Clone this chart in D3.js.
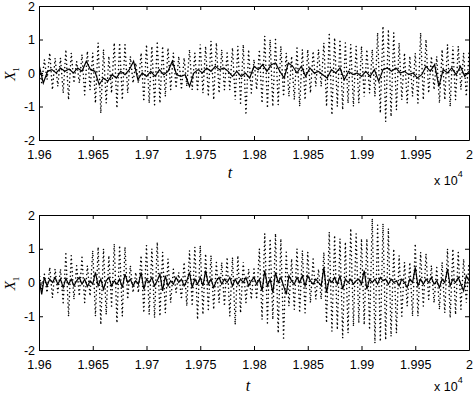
<!DOCTYPE html>
<html>
<head>
<meta charset="utf-8">
<script src="https://cdn.jsdelivr.net/npm/d3@7"></script>
<style>
  body { margin: 0; background: #fff; }
  svg { display: block; }
  .tick text { font-family: "Liberation Sans", Arial, sans-serif; font-size: 12.5px; fill: #000; }
  .tick line, .domain { stroke: #000; }
</style>
</head>
<body>
<script>
// time axis (t), in samples from t0 with a fixed step
const tStart = 19600, tEnd = 20000;
const xTicks = [19600, 19650, 19700, 19750, 19800, 19850, 19900, 19950, 20000];
const yTicks = [-2, -1, 0, 1, 2];
const dotStep = 2.5, solidStepTop = 4, solidStepBottom = 2.5;

// upper panel: dotted signal (swing peaks) and solid signal
const dottedTop = [0.2,-0.3,0.4,-0.2,0.6,-0.5,0.45,-0.4,0.45,-0.6,
  0.7,-0.8,0.6,
  -0.3,0.35,-0.3, 0.55,-0.65,0.65, -0.5,0.6,-0.9, 0.9,-1.2,0.7,
  -0.9,0.5,-0.6, 0.9,-1.05,0.9, -0.8,0.85,-0.6, 0.5,-0.3,0.3,
  -0.3,0.6,-0.85, 0.85,-0.9,0.8, -0.95,0.95,-0.9, 0.8,-0.7,0.75,
  -0.5,0.6,-0.45, 0.5,-0.5,0.45, -0.4,0.7,-0.5, 0.6,-0.55,0.85,
  -0.6,0.8,-0.7, 0.95,-0.8,0.9, -0.6,0.7,-0.5, 0.6,-0.5,0.75,
  -0.8,0.8,-0.9, 0.85,-1.25,0.7, -0.6,0.4,-0.5, 0.7,-0.9,1.1,
  -1.05,1.0,-1.0, 1.0,-0.95,0.8, -0.7,0.6,-0.7, 0.5,-0.8,0.75,
  -1.0,0.7,-0.8, 0.7,-0.6,0.65, -0.4,0.7,-0.4, 0.9,-1.0,1.15,
  -1.25,1.05,-1.0, 1.0,-1.1,0.9, -0.9,0.85,-1.0, 0.8,-0.9,0.8,
  -0.7,0.7,-0.6, 0.7,-0.7,1.2, -1.2,1.4,-1.45, 1.3,-1.3,1.2,
  -1.1,0.9,-0.8, 0.6,-0.9,0.5, -0.7,0.6,-0.9, 1.2,-0.8,1.0,
  -0.6,0.5,-0.5, 0.5,-0.9,0.7, -0.8,0.85,-1.0, 0.8,-0.8,0.8,
  -0.5,0.6,-0.7, 0.6];
const solidTop = [0.25,-0.3,0.05,0.1,0.0,0.15,0.05,0.12,0.0,0.15,
  0.05,0.35,0.1,0.05,-0.35,-0.15,-0.25,-0.05,-0.15,0.05,
  -0.05,0.1,0.35,-0.2,0.0,-0.1,0.05,-0.1,0.1,-0.05,
  0.05,0.35,-0.05,-0.1,-0.05,-0.4,0.0,0.1,0.0,0.15,
  0.05,0.2,0.1,0.15,0.05,-0.1,0.05,-0.1,0.0,-0.15,
  0.2,0.1,0.25,0.05,0.25,0.3,0.05,-0.15,0.3,0.2,
  0.0,0.2,-0.1,0.15,0.0,0.05,-0.05,-0.15,0.1,0.0,
  0.15,-0.2,0.05,-0.05,0.0,-0.1,0.05,-0.1,0.1,-0.25,
  0.1,0.15,0.05,0.15,0.0,0.05,-0.05,0.0,-0.15,-0.05,
  0.2,0.05,0.25,-0.4,0.1,0.0,0.15,-0.05,0.2,-0.1,0.05];

// lower panel
const dottedBottom = [0.3,-0.2,0.25,-0.3,0.45,-0.45,0.4,-0.3,0.4,-0.6,
  0.85,-1.0,0.8,
  -0.5,0.5,-0.4, 0.75,-0.6,0.5, -0.4,0.95,-1.0, 1.05,-1.25,1.0,
  -0.95,0.8,-0.7, 1.15,-1.2,1.1, -1.0,1.05,-0.5, 0.5,-0.3,0.3,
  -0.3,0.8,-0.9, 1.1,-0.95,1.0, -1.05,1.2,-1.0, 0.9,-0.9,0.7,
  -0.6,0.4,-0.3, 0.3,-0.5,0.6, -0.7,0.95,-0.7, 1.05,-1.1,1.1,
  -0.95,0.85,-0.8, 0.8,-0.8,0.6, -0.6,0.6,-0.7, 0.75,-1.0,0.75,
  -1.25,0.8,-0.9, 0.6,-0.6,0.4, -0.5,0.4,-0.5, 1.0,-1.1,1.45,
  -1.2,1.3,-1.1, 1.45,-1.5,1.3, -1.65,0.9,-0.7, 0.7,-0.8,1.0,
  -0.9,0.95,-0.9, 0.9,-0.6,0.7, -0.5,0.4,-0.5, 0.9,-1.2,1.5,
  -1.45,1.4,-1.4, 1.3,-1.65,1.2, -1.5,1.6,-1.3, 1.45,-1.2,1.3,
  -1.25,1.3,-1.4, 1.9,-1.8,1.7, -1.75,1.75,-1.7, 1.6,-1.6,1.0,
  -1.5,0.8,-1.0, 0.6,-0.7,0.6, -1.0,1.15,-1.0, 0.9,-0.7,0.85,
  -0.5,0.5,-0.6, 0.45,-0.8,0.6, -0.9,1.0,-1.05, 1.0,-0.95,0.9,
  -0.8,0.7,-0.6, 0.6];
const solidBottom = [0.1,-0.35,0.15,-0.1,0.1,0.0,0.15,-0.05,0.1,-0.15,
  0.12,-0.05,0.1,-0.1,0.05,0.15,-0.05,0.1,-0.12,0.05,
  -0.05,0.3,-0.1,0.1,-0.2,0.05,0.15,-0.1,0.05,-0.05,
  0.1,-0.15,0.25,0.0,0.1,-0.1,0.05,-0.05,0.3,-0.2,
  0.1,0.0,0.15,-0.1,0.05,0.25,-0.25,0.2,-0.1,0.05,
  -0.05,0.15,0.0,0.1,-0.1,0.05,0.3,-0.15,0.1,-0.05,
  0.15,-0.1,0.35,-0.05,0.1,-0.15,0.05,0.15,-0.05,0.1,
  0.0,0.15,-0.1,0.1,-0.05,0.1,0.0,0.15,-0.1,0.05,
  0.15,-0.05,0.1,-0.25,0.35,-0.1,0.1,-0.3,0.3,0.0,
  0.15,-0.1,-0.35,0.2,0.05,-0.05,0.15,0.0,0.2,-0.1,
  0.2,0.05,-0.05,0.1,0.0,-0.1,0.45,-0.3,0.1,0.0,
  0.15,-0.05,0.2,-0.2,0.1,0.0,0.1,-0.05,0.05,0.1,
  -0.05,0.35,-0.2,0.1,0.0,0.1,-0.05,0.15,0.05,0.1,
  -0.05,0.1,0.0,0.05,-0.1,0.1,0.0,-0.15,0.1,0.0,
  0.45,-0.1,0.1,-0.05,0.1,0.0,0.15,-0.05,0.05,-0.15,
  0.1,0.0,0.4,-0.1,0.1,0.0,0.15,-0.05,-0.25,0.2,0.05];

const outerWidth = 474, outerHeight = 395;
const left = 39, right = 469;

const svg = d3.select("body").append("svg")
    .attr("width", outerWidth)
    .attr("height", outerHeight)
    .style("font-family", "Liberation Sans, Arial, sans-serif");

const toPoints = (vals, step) => vals.map((v, i) => ({t: tStart + i * step, v: v}));

function panel(top, bottom, dotted, solid, solidStep, id, lab) {
  const x = d3.scaleLinear().domain([tStart, tEnd]).range([left, right]);
  const y = d3.scaleLinear().domain([-2, 2]).range([bottom, top]);

  svg.append("clipPath").attr("id", "clip" + id)
    .append("rect").attr("x", left).attr("y", top)
    .attr("width", right - left).attr("height", bottom - top);

  const line = d3.line().x(d => x(d.t)).y(d => y(d.v));

  const g = svg.append("g").attr("clip-path", "url(#clip" + id + ")");
  // dotted line drawn as round dots
  g.append("path")
    .datum(toPoints(dotted, dotStep))
    .attr("d", line)
    .attr("fill", "none")
    .attr("stroke", "#000")
    .attr("stroke-width", 1.5)
    .attr("stroke-linecap", "round")
    .attr("stroke-dasharray", "0.1,4");
  g.append("path")
    .datum(toPoints(solid, solidStep))
    .attr("d", line)
    .attr("fill", "none")
    .attr("stroke", "#000")
    .attr("stroke-width", 1.2);

  // MATLAB style box with inward ticks on every side
  svg.append("g")
    .attr("transform", "translate(0," + bottom + ")")
    .call(d3.axisBottom(x).tickValues(xTicks).tickSizeInner(-4).tickSizeOuter(0)
      .tickPadding(10).tickFormat(d => d3.format("")(+(d / 1e4).toFixed(4))));
  svg.append("g")
    .attr("transform", "translate(0," + top + ")")
    .call(d3.axisTop(x).tickValues(xTicks).tickSizeInner(-4).tickSizeOuter(0).tickFormat(""));
  svg.append("g")
    .attr("transform", "translate(" + left + ",0)")
    .call(d3.axisLeft(y).tickValues(yTicks).tickSizeInner(-4).tickSizeOuter(0)
      .tickPadding(4).tickFormat(d => d < 0 ? "-" + Math.abs(d) : d));
  svg.append("g")
    .attr("transform", "translate(" + right + ",0)")
    .call(d3.axisRight(y).tickValues(yTicks).tickSizeInner(-4).tickSizeOuter(0).tickFormat(""));

  // t label
  svg.append("text")
    .attr("x", lab.x).attr("y", lab.y)
    .attr("text-anchor", "middle")
    .style("font-family", "Liberation Serif, Times New Roman, serif")
    .style("font-style", "italic")
    .style("font-size", "16px")
    .text("t");

  // x 10^4 multiplier
  const m = svg.append("text")
    .attr("x", 434).attr("y", lab.my)
    .style("font-size", "12.5px");
  m.append("tspan").text("x 10");
  m.append("tspan").attr("dy", -8).style("font-size", "9px").text("4");

  // X_1 label
  const yl = svg.append("text")
    .attr("transform", "translate(15," + (y(0) + 1) + ") rotate(-90)")
    .attr("text-anchor", "middle")
    .style("font-family", "Liberation Serif, Times New Roman, serif")
    .style("font-size", "15px");
  yl.append("tspan").style("font-style", "italic").text("X");
  yl.append("tspan").attr("dy", 4).style("font-size", "9px").text("1");
}

panel(6, 140, dottedTop, solidTop, solidStepTop, "a", {x: 230, y: 178, my: 185});
panel(215, 350, dottedBottom, solidBottom, solidStepBottom, "b", {x: 248, y: 391, my: 391});
</script>
</body>
</html>
